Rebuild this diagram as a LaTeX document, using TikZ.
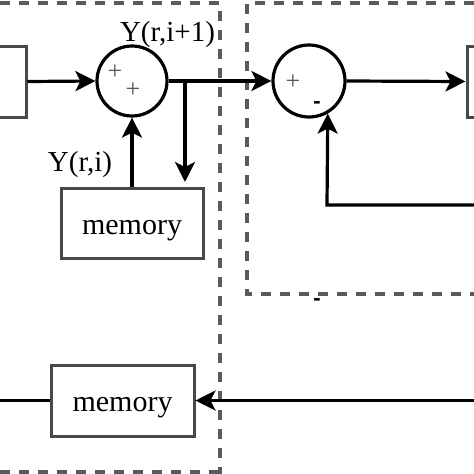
\documentclass[tikz,border=0pt]{standalone}
\usepackage{fontspec}
\setmainfont{Liberation Serif}
\newfontfamily\sansb{Liberation Sans}
\usetikzlibrary{arrows.meta,calc}
\definecolor{boxgray}{HTML}{484848}
\definecolor{dashgray}{HTML}{5A5A5A}
\begin{document}
\begin{tikzpicture}[x=1pt,y=-1pt,
  blk/.style={draw=boxgray,line width=3pt,rectangle,inner sep=0pt,font=\fontsize{30}{34}\selectfont,text height=21pt,text depth=0pt},
  sumc/.style={draw=black,line width=3.2pt,circle,inner sep=0pt},
  conn/.style={line width=3.2pt,black,-{Stealth[length=20pt,width=20pt,inset=5pt]}},
  plain/.style={line width=3.2pt,black},
  border/.style={draw=dashgray,line width=3.5pt,dash pattern=on 10pt off 9pt},
  lbl/.style={font=\fontsize{29}{32}\selectfont,inner sep=0pt},
  pl/.style={font=\fontsize{26}{28}\selectfont,text=dashgray,inner sep=0pt},
  mn/.style={font=\sansb\bfseries\fontsize{22}{24}\selectfont,inner sep=0pt}]
\useasboundingbox (0,0) rectangle (474,474);
\clip (0,0) rectangle (474,474);
% dashed borders
\draw[border] (0,3) -- (220,3) -- (220,474);
\draw[border] (0,472) -- (220,472);
\draw[border] (474,3) -- (247,3) -- (247,294) -- (474,294);
% nodes
\node[blk,minimum width=80pt,minimum height=71pt] (lbox) at (-14,81.5) {};
\node[sumc,minimum size=70pt] (s1) at (132,81) {};
\node[sumc,minimum size=72pt] (s2) at (309,81) {};
\node[blk,minimum width=80pt,minimum height=71pt] (rbox) at (507,81.5) {};
\node[blk,minimum width=142pt,minimum height=70pt,text height=23pt] (mem1) at (132,223) {memory};
\node[blk,minimum width=143pt,minimum height=71pt] (mem2) at (122.5,400.5) {memory};
% signs
\node[pl] (p1) at (115,72) {+};
\node[pl] (p2) at (133,90) {+};
\node[pl] (p3) at (293,82) {+};
\node[mn] (m1) at (317,105) {-};
\node[mn] (m2) at (317,302) {-};
% labels
\node[lbl] (ly1) at (167.5,35) {Y(r,i+1)};
\node[lbl] (ly0) at (80,165) {Y(r,i)};
% connectors
\coordinate (br) at (185,81);
\coordinate (brd) at (185,182);
\coordinate (fbr) at (480,205);
\coordinate (fbc) at (327,205);
\coordinate (inl) at (-5,400.5);
\coordinate (inr) at (480,400.5);
\draw[conn] (lbox.east) -- (s1.west);
\draw[conn] (s1.east) -- (s2.west);
\draw[conn] (br) -- (brd);
\draw[conn] (mem1.north) -- (s1.south);
\draw[conn] (s2.east) -- (rbox.west);
\draw[conn] (fbr) -- (fbc) -- (s2.-60);
\draw[conn] (inr) -- (mem2.east);
\draw[plain] (mem2.west) -- (inl);
\end{tikzpicture}
\end{document}
